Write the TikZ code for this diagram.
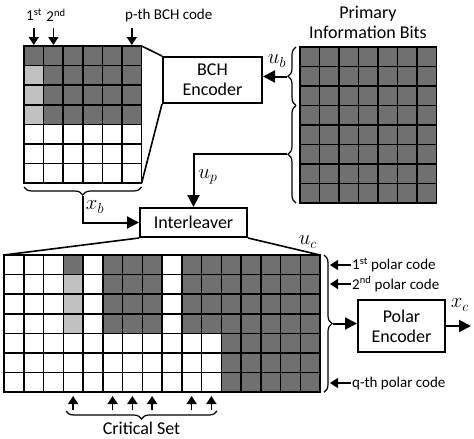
\documentclass[tikz,border=0pt]{standalone}
\usepackage{fontspec}
\setmainfont{Carlito}
\usetikzlibrary{arrows.meta, positioning, calc, decorations.pathreplacing}
\definecolor{darkcell}{RGB}{112,112,112}
\definecolor{lightcell}{RGB}{192,192,192}

\begin{document}
\begin{tikzpicture}[x=1pt, y=-1pt,
    encbox/.style={draw, line width=2pt, align=center, inner sep=0pt, font=\fontsize{18}{20}\selectfont},
    cellline/.style={line width=1.5pt},
    flow/.style={line width=2pt, -{Triangle[length=12pt, width=12pt]}},
    pointer/.style={line width=1.6pt, -{Triangle[length=8pt, width=10pt]}},
    curly/.style={decorate, decoration={brace, amplitude=8pt}, line width=1.2pt},
    sym/.style={font=\fontsize{22}{22}\selectfont},
    small/.style={font=\fontsize{15}{16}\selectfont, inner sep=1pt}]
    \useasboundingbox (0,0) rectangle (474,439);

    % BCH codeword block (top left)
    \fill[darkcell] (24,46) rectangle (141.6,124.4);
    \fill[lightcell] (24,65.6) rectangle (43.6,124.4);
    \foreach \c in {0,...,5}
        \foreach \r in {0,...,6}
            \draw[cellline] ({24+\c*19.6},{46+\r*19.6}) rectangle +(19.6,19.6);
    \coordinate (bchgrid-ne) at (141.6,46);
    \coordinate (bchgrid-se) at (141.6,183.2);

    % Primary information bits (top right)
    \fill[darkcell] (300,47) rectangle (436.5,203);
    \foreach \c in {0,...,6}
        \foreach \r in {0,...,7}
            \draw[cellline] ({300+\c*19.5},{47+\r*19.5}) rectangle +(19.5,19.5);
    \node[font=\fontsize{18}{20}\selectfont, align=center] (pib) at (368,22) {Primary\\Information Bits};

    % Interleaved block (bottom)
    \fill[darkcell] (63.25,255) rectangle (83,274.6);
    \fill[lightcell] (63.25,274.6) rectangle (83,333.4);
    \fill[darkcell] (102.75,255) rectangle (162,333.4);
    \fill[darkcell] (181.75,255) rectangle (221.25,333.4);
    \fill[darkcell] (221.25,255) rectangle (320,392.2);
    \foreach \c in {0,...,15}
        \foreach \r in {0,...,6}
            \draw[cellline] ({4+\c*19.75},{255+\r*19.6}) rectangle +(19.75,19.6);
    \coordinate (polgrid-nw) at (4,255);
    \coordinate (polgrid-ne) at (320,255);

    % Encoders
    \node[encbox, minimum width=99pt, minimum height=46pt] (bch) at (212.5,80) {BCH\\Encoder};
    \node[encbox, minimum width=107pt, minimum height=29pt] (inter) at (193.5,222.5) {Interleaver};
    \node[encbox, minimum width=87pt, minimum height=52pt] (polar) at (401.5,326) {Polar\\Encoder};

    % Fan-in lines
    \draw[line width=1.6pt] (bchgrid-ne) -- (bch.north west);
    \draw[line width=1.6pt] (bchgrid-se) -- (bch.south west);
    \draw[line width=1.6pt] (inter.south west) -- (polgrid-nw);
    \draw[line width=1.6pt] (inter.south east) -- (polgrid-ne);

    % Braces
    \draw[curly] (141.6,187) -- (24,187);
    \coordinate (xb-tip) at (82.8,196);
    \draw[curly] (296,105.5) -- (296,47);
    \coordinate (ub-tip) at (287,76.5);
    \draw[curly] (296,203) -- (296,105.5);
    \coordinate (up-tip) at (287,154);
    \draw[curly] (324,255) -- (324,392.2);
    \coordinate (uc-tip) at (333,323.5);
    \draw[curly] (217,411) -- (66,411);
    \coordinate (cs-tip) at (141.5,420);

    % Data flow
    \draw[flow] (ub-tip) -- (ub-tip -| bch.east);
    \node[sym] (ub) at (277,61) {$u_b$};
    \draw[flow] (up-tip) -| (inter.north);
    \node[sym] (up) at (208,177) {$u_p$};
    \draw[flow] (xb-tip) |- (inter.west);
    \node[sym] (xb) at (95,207) {$x_b$};
    \node[sym] (uc) at (308,242) {$u_c$};
    \draw[flow] (uc-tip) -- (uc-tip -| polar.west);
    \coordinate (xc-end) at (471,326);
    \draw[flow] (polar.east) -- (xc-end);
    \node[sym] (xc) at (460,305) {$x_c$};

    % Column pointers above BCH block
    \node[small] (bch1) at (34,15) {1\textsuperscript{st}};
    \node[small] (bch2) at (56,15) {2\textsuperscript{nd}};
    \node[small, anchor=west] (bchp) at (124,16) {p-th BCH code};
    \draw[pointer] (33.8,28) -- (33.8,45);
    \draw[pointer] (53.4,28) -- (53.4,45);
    \draw[pointer] (131.8,28) -- (131.8,45);

    % Row pointers beside polar block
    \node[small, anchor=west] (pol1) at (351,265) {1\textsuperscript{st} polar code};
    \node[small, anchor=west] (pol2) at (351,284) {2\textsuperscript{nd} polar code};
    \node[small, anchor=west] (polq) at (351,383) {q-th polar code};
    \coordinate (pol1-end) at (330,265);
    \coordinate (pol2-end) at (330,284);
    \coordinate (polq-end) at (330,383);
    \draw[pointer] (pol1.west) -- (pol1-end);
    \draw[pointer] (pol2.west) -- (pol2-end);
    \draw[pointer] (polq.west) -- (polq-end);

    % Critical set
    \foreach \c in {3,5,6,7,9,10}
        \draw[pointer] ({4+(\c+0.5)*19.75},410) -- ({4+(\c+0.5)*19.75},396);
    \node[font=\fontsize{18}{20}\selectfont, below=-2pt of cs-tip] (cset) {Critical Set};
\end{tikzpicture}
\end{document}
